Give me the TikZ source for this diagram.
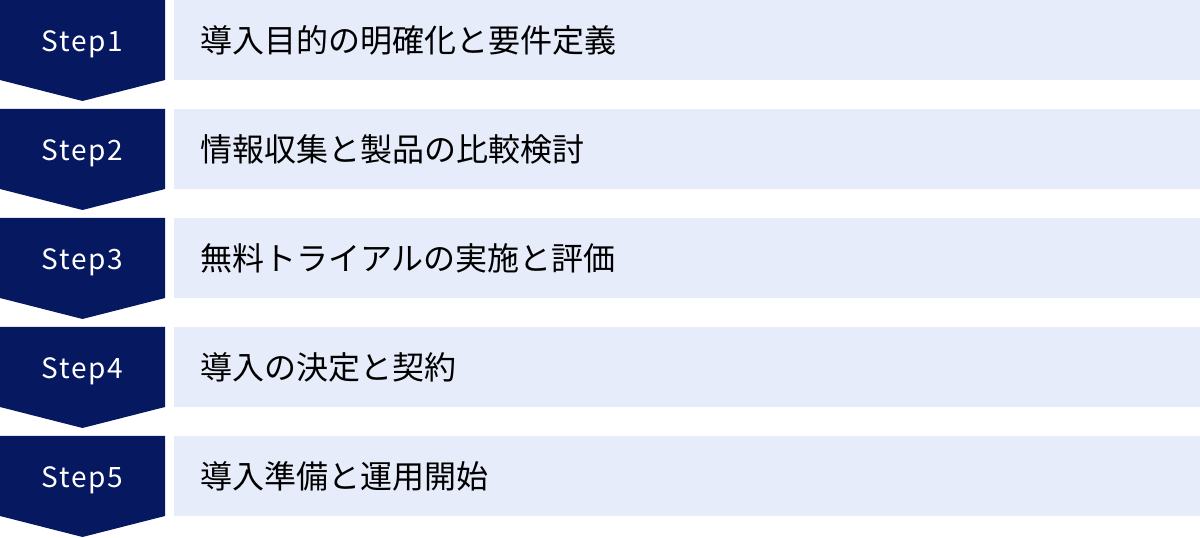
\documentclass[tikz,border=0pt]{standalone}
\usepackage{fontspec}
\setmainfont{Noto Sans}
\newfontfamily\jpfont{Noto Sans CJK JP}
\newfontfamily\stepfont[LetterSpace=6]{Noto Sans CJK JP}
\usepackage{tikz}

\begin{document}
\begin{tikzpicture}[x=1pt,y=1pt]
\definecolor{fillColor}{RGB}{255,255,255}
\definecolor{stepColor}{RGB}{5,24,96}
\definecolor{boxColor}{RGB}{230,236,249}
\definecolor{drawColor}{RGB}{0,0,0}
\path[use as bounding box,fill=fillColor] (0,0) rectangle (1200,538);

\path[fill=stepColor] (  0.00,538.00) -- (165.00,538.00) -- (165.00,458.00) -- ( 82.50,437.00) -- (  0.00,458.00) -- cycle;
\path[fill=stepColor] (  0.00,429.00) -- (165.00,429.00) -- (165.00,349.00) -- ( 82.50,328.00) -- (  0.00,349.00) -- cycle;
\path[fill=stepColor] (  0.00,320.00) -- (165.00,320.00) -- (165.00,240.00) -- ( 82.50,219.00) -- (  0.00,240.00) -- cycle;
\path[fill=stepColor] (  0.00,211.00) -- (165.00,211.00) -- (165.00,131.00) -- ( 82.50,110.00) -- (  0.00,131.00) -- cycle;
\path[fill=stepColor] (  0.00,102.00) -- (165.00,102.00) -- (165.00, 22.00) -- ( 82.50,  1.00) -- (  0.00, 22.00) -- cycle;

\path[fill=boxColor] (174.00,538.00) rectangle (1200.00,458.00);
\path[fill=boxColor] (174.00,429.00) rectangle (1200.00,349.00);
\path[fill=boxColor] (174.00,320.00) rectangle (1200.00,240.00);
\path[fill=boxColor] (174.00,211.00) rectangle (1200.00,131.00);
\path[fill=boxColor] (174.00,102.00) rectangle (1200.00, 22.00);

\node (step1) [text=white,anchor=base,inner sep=0pt, outer sep=0pt, font=\stepfont\fontsize{28}{32}\selectfont] at ( 82.50,486.00) {Step1};
\node (step2) [text=white,anchor=base,inner sep=0pt, outer sep=0pt, font=\stepfont\fontsize{28}{32}\selectfont] at ( 82.50,377.00) {Step2};
\node (step3) [text=white,anchor=base,inner sep=0pt, outer sep=0pt, font=\stepfont\fontsize{28}{32}\selectfont] at ( 82.50,268.00) {Step3};
\node (step4) [text=white,anchor=base,inner sep=0pt, outer sep=0pt, font=\stepfont\fontsize{28}{32}\selectfont] at ( 82.50,159.00) {Step4};
\node (step5) [text=white,anchor=base,inner sep=0pt, outer sep=0pt, font=\stepfont\fontsize{28}{32}\selectfont] at ( 82.50, 50.00) {Step5};

\node (task1) [text=drawColor,anchor=west,inner sep=0pt, outer sep=0pt, font=\jpfont\fontsize{32}{36}\selectfont] at (200.00,498.00) {導入目的の明確化と要件定義};
\node (task2) [text=drawColor,anchor=west,inner sep=0pt, outer sep=0pt, font=\jpfont\fontsize{32}{36}\selectfont] at (200.00,389.00) {情報収集と製品の比較検討};
\node (task3) [text=drawColor,anchor=west,inner sep=0pt, outer sep=0pt, font=\jpfont\fontsize{32}{36}\selectfont] at (200.00,280.00) {無料トライアルの実施と評価};
\node (task4) [text=drawColor,anchor=west,inner sep=0pt, outer sep=0pt, font=\jpfont\fontsize{32}{36}\selectfont] at (200.00,171.00) {導入の決定と契約};
\node (task5) [text=drawColor,anchor=west,inner sep=0pt, outer sep=0pt, font=\jpfont\fontsize{32}{36}\selectfont] at (200.00, 62.00) {導入準備と運用開始};
\end{tikzpicture}
\end{document}
